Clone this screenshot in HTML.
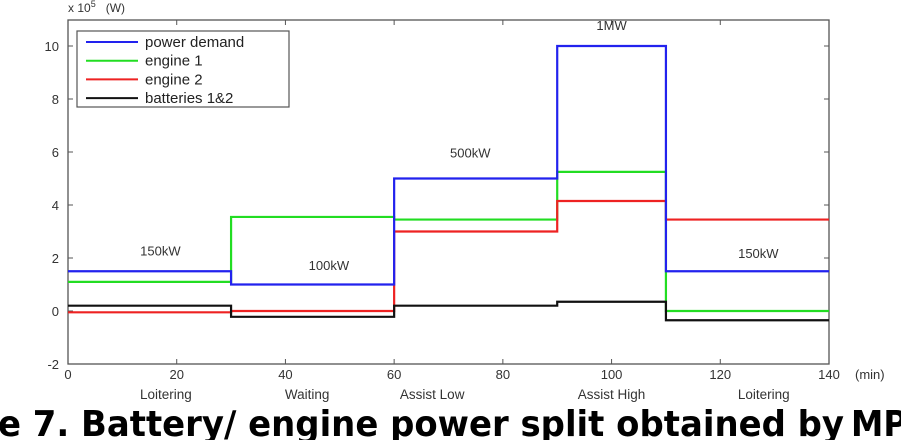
<!DOCTYPE html>
<html><head><meta charset="utf-8"><style>
body{margin:0;background:#fff;width:901px;height:440px;overflow:hidden}
svg{display:block;font-family:"Liberation Sans",Arial,sans-serif}
</style></head><body>
<svg id="chart" width="901" height="440">
<g id="axes"></g><g id="series"></g><g id="labels"></g>
</svg>
<script>
const xTicks=[0,20,40,60,80,100,120,140];
const yTicks=[-2,0,2,4,6,8,10];
const edges=[0,30,60,90,110,140];
const powerDemand=[1.5,1.0,5.0,10.0,1.5];
const engine1=[1.1,3.55,3.45,5.25,0.0];
const engine2=[-0.05,0.0,3.0,4.15,3.45];
const batteries=[0.2,-0.22,0.2,0.35,-0.35];
const phases=["Loitering","Waiting","Assist Low","Assist High","Loitering"];
const phaseX=[18,44,67,100,128];
const annText=["150kW","100kW","500kW","1MW","150kW"];
const annPos=[[17,2.1],[48,1.55],[74,5.8],[100,10.6],[127,2.0]];

const L=68,R=829,T=20,B=364,Y10=46;
const xs=v=>L+(v-0)/(140-0)*(R-L);
const ys=v=>B-(v+2)/12*(B-Y10);
const NS="http://www.w3.org/2000/svg";
function mk(tag,attrs,parent,text){const e=document.createElementNS(NS,tag);for(const k in attrs)e.setAttribute(k,attrs[k]);if(text!==undefined)e.textContent=text;parent.appendChild(e);return e;}
const ax=document.getElementById('axes'),se=document.getElementById('series'),lb=document.getElementById('labels');
let f=mk('rect',{x:L,y:T,width:R-L,height:B-T,fill:'none',stroke:'#555','stroke-width':1.3},ax);

xTicks.forEach(t=>{const x=xs(t);
 mk('line',{x1:x,x2:x,y1:B,y2:B-5,stroke:'#555'},ax);mk('line',{x1:x,x2:x,y1:T,y2:T+5,stroke:'#555'},ax);
 const e=mk('text',{x:x,y:B+15,'text-anchor':'middle','font-size':13,fill:'#333'},ax,String(t));
 });
yTicks.forEach(t=>{const y=ys(t);
 mk('line',{x1:L,x2:L+5,y1:y,y2:y,stroke:'#555'},ax);mk('line',{x1:R,x2:R-5,y1:y,y2:y,stroke:'#555'},ax);
 const e=mk('text',{x:L-9,y:y+5,'text-anchor':'end','font-size':13,fill:'#333'},ax,String(t));
 });
function step(vals,color,name){let d='';vals.forEach((v,i)=>{const x0=xs(edges[i]),x1=xs(edges[i+1]),y=ys(v);d+=(i?'L':'M')+x0+','+y+'L'+x1+','+y;});
 const p=mk('path',{d:d,fill:'none',stroke:color,'stroke-width':2.2},se);
 }
step(engine1,'#22dd22','engine-1-line');
step(engine2,'#ee2222','engine-2-line');
step(powerDemand,'#2222ee','power-demand-line');
step(batteries,'#111','batteries-line');
annText.forEach((t,i)=>{const e=mk('text',{x:xs(annPos[i][0]),y:ys(annPos[i][1]),'text-anchor':'middle','font-size':13,fill:'#333'},lb,t);
 });
phases.forEach((t,i)=>{const e=mk('text',{x:xs(phaseX[i]),y:399,'text-anchor':'middle','font-size':13.5,fill:'#333'},lb,t);
 });
const lg=mk('g',{},lb);
mk('rect',{x:77,y:31,width:212,height:76,fill:'#fff',stroke:'#555','stroke-width':1.2},lg);
[['power demand','#2222ee'],['engine 1','#22dd22'],['engine 2','#ee2222'],['batteries 1&2','#111']].forEach((r,i)=>{
 const y=42+i*18.7;mk('line',{x1:86,x2:138,y1:y,y2:y,stroke:r[1],'stroke-width':2},lg);
 const e=mk('text',{x:145,y:y+5,'font-size':15,fill:'#222'},lg,r[0]);
 });
</script>
<svg style="position:absolute;left:0;top:0" width="901" height="440">
<text x="68" y="12" font-size="12" fill="#333" font-family="Liberation Sans">x 10<tspan dy="-5" font-size="9">5</tspan><tspan dy="5" dx="10">(W)</tspan></text>
<text x="855" y="379" font-size="13" fill="#333" font-family="Liberation Sans">(min)</text>
<text x="-2" y="436" font-size="36" font-weight="bold" fill="#000" font-family="DejaVu Sans" textLength="846" lengthAdjust="spacingAndGlyphs">e 7. Battery/ engine power split obtained by</text>
<text x="851" y="436" font-size="36" font-weight="bold" fill="#000" font-family="DejaVu Sans" textLength="80" lengthAdjust="spacingAndGlyphs">MPC</text>
</svg>
</body></html>
